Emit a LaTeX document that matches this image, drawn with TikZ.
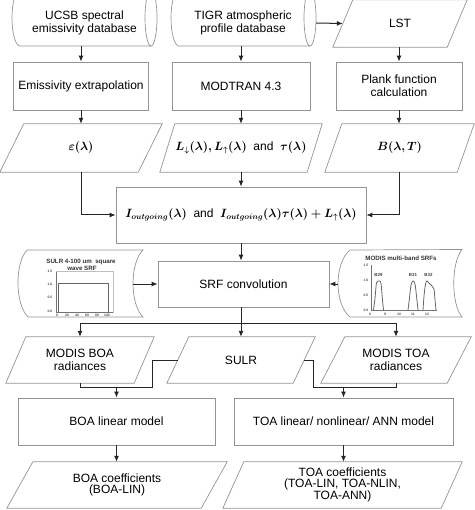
\documentclass[tikz,border=0pt]{standalone}
\usepackage{fix-cm}
\usepackage{amsmath,bm}
\usepackage[no-math]{fontspec}
\setmainfont{Liberation Sans}
\usetikzlibrary{arrows.meta,calc}
\newcommand\mainfnt{\fontsize{12}{13}\selectfont}
\newcommand\parabox[2]{\draw[bd] ([xshift=#2pt]#1.north west) -- (#1.north east) -- ([xshift=-#2pt]#1.south east) -- (#1.south west) -- cycle;}
\begin{document}
\begin{tikzpicture}[x=1pt,y=-1pt,
  bd/.style={draw=black!42, line width=0.7pt},
  box/.style={draw=black!42, line width=0.7pt, inner sep=0pt, align=center, font=\mainfnt},
  txt/.style={inner sep=0pt, align=center, font=\mainfnt},
  arr/.style={draw=black!85, line width=1pt, -{Latex[length=6pt,width=5pt]}},
  ln/.style={draw=black!85, line width=1pt},
  ttl/.style={inner sep=0pt, align=center, font=\fontsize{6.2}{6.6}\selectfont\bfseries, text=black!80},
  tkl/.style={inner sep=0pt, font=\fontsize{3.4}{3.6}\selectfont\bfseries, text=black!70},
  bl/.style={inner sep=0pt, font=\fontsize{4.4}{4.6}\selectfont\bfseries, text=black!75},
  pax/.style={draw=black!55, line width=0.5pt},
  pfr/.style={draw=black!25, line width=0.4pt},
  crv/.style={draw=black!60, line width=0.8pt}
]
\useasboundingbox (0,0) rectangle (474,510);

% ---- top row
\node[txt, minimum width=145pt, minimum height=46pt] (ucsb) at (84.5,23) {UCSB spectral\\emissivity database};
\draw[bd] (151,-10) -- (20,-10) arc[start angle=270,end angle=90,x radius=8,y radius=28] -- (151,46);
\draw[bd] (151,18) ellipse [x radius=6, y radius=28];

\node[txt, minimum width=146pt, minimum height=46pt] (tigr) at (243,23) {TIGR atmospheric\\profile database};
\draw[bd] (310,-10) -- (179,-10) arc[start angle=270,end angle=90,x radius=8,y radius=28] -- (310,46);
\draw[bd] (310,18) ellipse [x radius=6, y radius=28];

\node[txt, minimum width=134pt, minimum height=47pt] (lst) at (400,23.5) {LST};
\parabox{lst}{20}

% ---- second row
\node[box, minimum width=135pt, minimum height=48pt] (emis) at (81,86) {Emissivity extrapolation};
\node[box, minimum width=138pt, minimum height=48pt] (modtran) at (241,86) {MODTRAN 4.3};
\node[box, minimum width=126pt, minimum height=48pt] (plank) at (399,86) {Plank function\\calculation};

% ---- third row
\node[txt, minimum width=162pt, minimum height=48pt] (eps) at (81,148) {$\bm{\varepsilon(\lambda)}$};
\parabox{eps}{24}
\node[txt, minimum width=162pt, minimum height=48pt] (lrad) at (241,148) {$\bm{L_{\downarrow}(\lambda), L_{\uparrow}(\lambda)}$\ \ and\ \ $\bm{\tau(\lambda)}$};
\parabox{lrad}{15}
\node[txt, minimum width=149pt, minimum height=48pt] (bpl) at (399.5,148) {$\bm{B(\lambda,T)}$};
\parabox{bpl}{17}

% ---- I outgoing
\node[box, minimum width=250pt, minimum height=56pt] (iout) at (241,215) {$\bm{I_{outgoing}(\lambda)}$\ \ and\ \ $\bm{I_{outgoing}(\lambda)\tau(\lambda)+L_{\uparrow}(\lambda)}$};

% ---- SRF convolution
\node[box, minimum width=171pt, minimum height=46pt] (srf) at (243.5,284) {SRF convolution};

% ---- left inset
\node[inner sep=0pt, minimum width=125pt, minimum height=67pt] (sl) at (80.5,283.5) {};
\draw[bd] (27,250) -- (143,250) .. controls (129.7,263) and (129.7,304) .. (143,317) -- (28,317) .. controls (14.8,304) and (14.8,263) .. (27,250) -- cycle;
\node[ttl] (slt1) at (81,261.5) {SULR 4-100 um\ \ square};
\node[ttl] (slt2) at (82,268.3) {wave SRF};
\draw[pfr] (56,271.5) rectangle (113,312);
\draw[pax] (56,271.5) -- (56,312) -- (113,312);
\foreach \v/\yy in {1.5/271.5,1.0/284,0.5/297.5,0.0/311}{\node[tkl] at (50,\yy) {\v};}
\foreach \v/\xx in {0/57,20/67,40/77,60/87,80/97,100/107}{\node[tkl] at (\xx,315.5) {\v};}
\draw[crv] (58,312) -- (58,283.5) -- (108,283.5) -- (108,312);

% ---- right inset
\node[inner sep=0pt, minimum width=124pt, minimum height=67pt] (sr) at (400,283.5) {};
\draw[bd] (350,250) -- (462,249.5) .. controls (451,263) and (451,304) .. (462,317) -- (350,317) .. controls (334,304) and (334,263) .. (350,250) -- cycle;
\node[ttl] (srt) at (401,258) {MODIS multi-band SRFs};
\draw[pax] (371,265) -- (371,310) -- (437,310);
\foreach \v/\yy in {1.5/265,1.0/280,0.5/295,0.0/310}{\node[tkl] at (366,\yy) {\v};}
\foreach \v/\xx in {8/370,9/385,10/399,11/413,12/427}{\node[tkl] at (\xx,314) {\v};}
\draw[crv] plot[smooth] coordinates {(373.5,310) (375,298) (376.3,284) (377.5,281.5) (380,281) (381.2,285) (382.3,298) (383.5,310)};
\draw[crv] plot[smooth] coordinates {(408,310) (409.5,298) (411,285) (413,281) (415,284) (416.5,296) (418,310)};
\draw[crv] plot[smooth] coordinates {(423,310) (424,296) (425.5,284) (427,281) (429,283) (432,286) (434,289) (435,300) (436,310)};
\node[bl] at (378.5,274.5) {B29};
\node[bl] at (413,274.5) {B31};
\node[bl] at (428.5,274.5) {B32};

% ---- fifth row
\node[txt, minimum width=148pt, minimum height=46pt] (boa) at (80,360) {MODIS BOA\\radiances};
\parabox{boa}{20}
\node[txt, minimum width=148pt, minimum height=46pt] (sulr) at (241,360) {SULR};
\parabox{sulr}{22}
\node[txt, minimum width=150pt, minimum height=46pt] (toa) at (396,360) {MODIS TOA\\radiances};
\parabox{toa}{24}

% ---- sixth row
\node[box, minimum width=197pt, minimum height=47pt] (boam) at (116.5,421.5) {BOA linear model};
\node[box, minimum width=219pt, minimum height=47pt] (toam) at (343.5,421.5) {TOA linear/ nonlinear/ ANN model};

% ---- seventh row
\node[txt, minimum width=220pt, minimum height=46pt, font=\fontsize{12}{11}\selectfont] (boac) at (117,485) {BOA coefficients\\(BOA-LIN)};
\parabox{boac}{26}
\node[txt, minimum width=239pt, minimum height=46pt, font=\fontsize{12}{10.5}\selectfont] (toac) at (342.5,485) {TOA coefficients\\(TOA-LIN, TOA-NLIN,\\TOA-ANN)};
\parabox{toac}{21}

% ---- connectors
\draw[arr] (tigr.east) -- ([xshift=10pt]lst.west);
\draw[arr] (ucsb.south -| emis.north) -- (emis.north);
\draw[arr] (tigr.south -| modtran.north) -- (modtran.north);
\draw[arr] (lst.south -| plank.north) -- (plank.north);
\draw[arr] (emis.south) -- (eps.north);
\draw[arr] (modtran.south) -- (lrad.north);
\draw[arr] (plank.south) -- (plank.south |- bpl.north);
\draw[arr] (eps.south) |- (iout.west);
\draw[arr] (plank.south |- bpl.south) |- (iout.east);
\draw[arr] (lrad.south) -- (iout.north);
\draw[arr] (iout.south) -- (iout.south |- srf.north);
\draw[arr] ([xshift=-10pt]sl.east |- srf.west) -- (srf.west);
\draw[arr] (sr.west |- srf.east) -- (srf.east);

\coordinate (jn) at (241,323);
\draw[ln] (srf.south -| jn) -- (jn);
\draw[ln] (boa.north |- jn) -- (toa.north |- jn);
\draw[arr] (boa.north |- jn) -- (boa.north);
\draw[arr] (jn) -- (sulr.north);
\draw[arr] (toa.north |- jn) -- (toa.north);

\coordinate (lb) at (152,387);
\coordinate (rb) at (313,387);
\draw[ln] ([xshift=11pt]sulr.west) -| (lb) -| (boa.south);
\draw[ln] ([xshift=-11pt]sulr.east) -| (rb) -| (toa.south);
\draw[arr] (boam.north |- lb) -- (boam.north);
\draw[arr] (toam.north |- rb) -- (toam.north);
\draw[arr] (boam.south) -- (boam.south |- boac.north);
\draw[arr] (toam.south) -- (toam.south |- toac.north);
\end{tikzpicture}
\end{document}
